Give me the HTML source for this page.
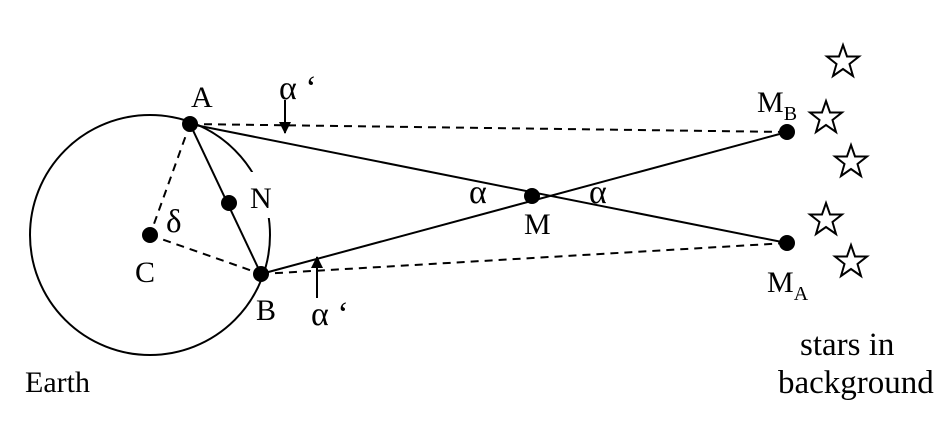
<!DOCTYPE html>
<html><head><style>body{margin:0;background:#fff}svg{display:block}text{font-family:"Liberation Serif",serif;fill:#000}</style></head><body>
<svg width="950" height="430" viewBox="0 0 950 430" xmlns="http://www.w3.org/2000/svg">
<defs><marker id="ah" markerWidth="12" markerHeight="12" refX="11" refY="6" orient="auto" markerUnits="userSpaceOnUse"><path d="M0,0 L12,6 L0,12 Z" fill="#000"/></marker></defs>
<circle cx="150" cy="235" r="120" fill="none" stroke="#000" stroke-width="2"/>
<rect x="244" y="172" width="32" height="46" fill="#fff"/>
<g stroke="#000" stroke-width="2" fill="none">
<line x1="190" y1="124" x2="787" y2="243"/>
<line x1="261" y1="274" x2="787" y2="132"/>
<line x1="190" y1="124" x2="261" y2="274"/>
<g stroke-dasharray="8,6">
<line x1="190" y1="124" x2="787" y2="132"/>
<line x1="261" y1="274" x2="787" y2="243"/>
<line x1="190" y1="124" x2="150" y2="235"/>
<line x1="150" y1="235" x2="261" y2="274"/>
</g>
<line x1="285" y1="100" x2="285" y2="133" marker-end="url(#ah)"/>
<line x1="317" y1="298" x2="317" y2="257" marker-end="url(#ah)"/>
</g>
<g fill="#000">
<circle cx="190" cy="124" r="8"/><circle cx="261" cy="274" r="8"/><circle cx="229" cy="203" r="8"/>
<circle cx="150" cy="235" r="8"/><circle cx="532" cy="196" r="8"/>
<circle cx="787" cy="132" r="8"/><circle cx="787" cy="243" r="8"/>
</g>
<g font-size="30">
<text x="191" y="107">A</text>
<text x="250" y="208">N</text>
<text x="166" y="232" font-size="33">δ</text>
<text x="135" y="282">C</text>
<text x="256" y="320">B</text>
<text x="279" y="99" font-size="34">α ‘</text>
<text x="311" y="325" font-size="34">α ‘</text>
<text x="469" y="203" font-size="34">α</text>
<text x="589" y="203" font-size="34">α</text>
<text x="524" y="234">M</text>
<text x="757" y="112">M<tspan font-size="20" dy="8">B</tspan></text>
<text x="767" y="292">M<tspan font-size="20" dy="8">A</tspan></text>
<text x="25" y="392">Earth</text>
<text x="800" y="355" font-size="33">stars in</text>
<text x="778" y="393" font-size="33">background</text>
</g>
<g fill="#fff" stroke="#000" stroke-width="2">
<polygon transform="translate(843,62)" points="0,-17 4,-5.5 16,-5.5 6.5,2 10,14 0,7 -10,14 -6.5,2 -16,-5.5 -4,-5.5"/>
<polygon transform="translate(826,118)" points="0,-17 4,-5.5 16,-5.5 6.5,2 10,14 0,7 -10,14 -6.5,2 -16,-5.5 -4,-5.5"/>
<polygon transform="translate(851,162)" points="0,-17 4,-5.5 16,-5.5 6.5,2 10,14 0,7 -10,14 -6.5,2 -16,-5.5 -4,-5.5"/>
<polygon transform="translate(826,220)" points="0,-17 4,-5.5 16,-5.5 6.5,2 10,14 0,7 -10,14 -6.5,2 -16,-5.5 -4,-5.5"/>
<polygon transform="translate(851,262)" points="0,-17 4,-5.5 16,-5.5 6.5,2 10,14 0,7 -10,14 -6.5,2 -16,-5.5 -4,-5.5"/>
</g>
</svg>
</body></html>
